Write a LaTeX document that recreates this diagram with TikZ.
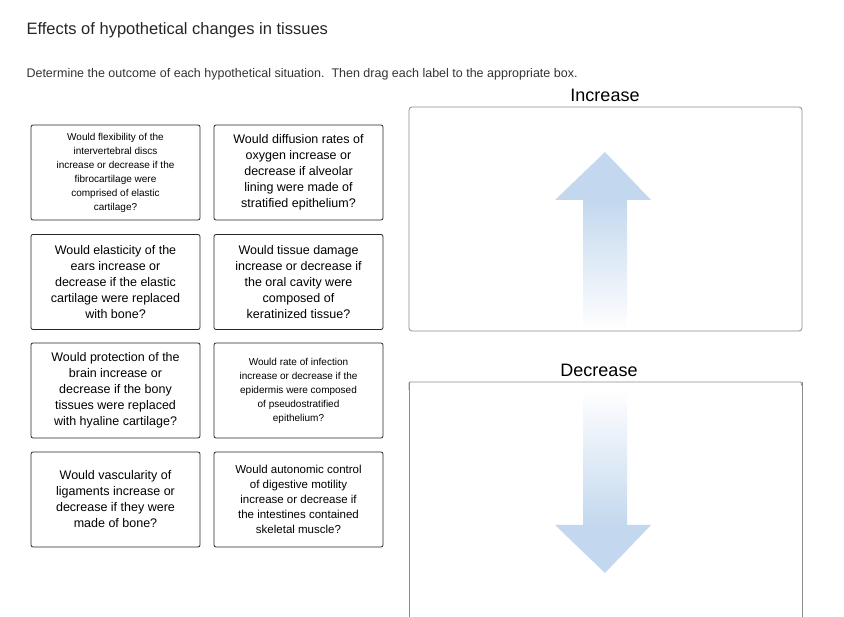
\documentclass[tikz,border=0pt]{standalone}
\usepackage{fontspec}
\setmainfont{Liberation Sans}
\definecolor{arr}{HTML}{C3D8EE}
\definecolor{tx}{HTML}{333333}
\begin{document}
\begin{tikzpicture}[x=1pt,y=-1pt,
  q/.style={draw=black!85,rounded corners=2pt,minimum width=169pt,minimum height=95pt,align=center,font=\fontsize{12.5}{16}\selectfont,inner sep=0pt,line width=0.8pt},
  qs/.style={q,font=\fontsize{10}{14}\selectfont},
  bin/.style={draw=black!45,rounded corners=3pt,line width=0.8pt}]
\useasboundingbox (0,0) rectangle (844,617);
\node[anchor=west,text=black!85,font=\fontsize{16.5}{18}\selectfont] (t) at (23,30) {Effects of hypothetical changes in tissues};
\node[anchor=west,text=tx,font=\fontsize{12.5}{15}\selectfont] (s) at (23,74) {Determine the outcome of each hypothetical situation.\ \ Then drag each label to the appropriate box.};
\node[font=\fontsize{18}{20}\selectfont] (inc) at (605,95) {Increase};
\node[font=\fontsize{18}{20}\selectfont] (dec) at (599,370) {Decrease};
\draw[bin] (409,107) rectangle (802,331);
\draw[bin] (409,382) -- (409,625) (802,625) -- (802,382);
\draw[bin] (409,390) -- (409,386) arc (180:270:4) -- (798,382) arc (270:360:4);
\shade[top color=arr,bottom color=white] (583,200) rectangle (627,330);
\fill[arr] (555,200) -- (605,152) -- (651,200) -- cycle;
\shade[top color=white,bottom color=arr] (583,390) rectangle (627,525);
\fill[arr] (555,525) -- (605,573) -- (651,525) -- cycle;
\node[qs] (a1) at (115.5,172.5) {Would flexibility of the\\intervertebral discs\\increase or decrease if the\\fibrocartilage were\\comprised of elastic\\cartilage?};
\node[q] (b1) at (298.5,172.5) {Would diffusion rates of\\oxygen increase or\\decrease if alveolar\\lining were made of\\stratified epithelium?};
\node[q] (a2) at (115.5,282) {Would elasticity of the\\ears increase or\\decrease if the elastic\\cartilage were replaced\\with bone?};
\node[q] (b2) at (298.5,282) {Would tissue damage\\increase or decrease if\\the oral cavity were\\composed of\\keratinized tissue?};
\node[q] (a3) at (115.5,390.5) {Would protection of the\\brain increase or\\decrease if the bony\\tissues were replaced\\with hyaline cartilage?};
\node[qs] (b3) at (298.5,390.5) {Would rate of infection\\increase or decrease if the\\epidermis were composed\\of pseudostratified\\epithelium?};
\node[q] (a4) at (115.5,499.5) {Would vascularity of\\ligaments increase or\\decrease if they were\\made of bone?};
\node[q,font=\fontsize{11.5}{15}\selectfont] (b4) at (298.5,499.5) {Would autonomic control\\of digestive motility\\increase or decrease if\\the intestines contained\\skeletal muscle?};
\end{tikzpicture}
\end{document}
